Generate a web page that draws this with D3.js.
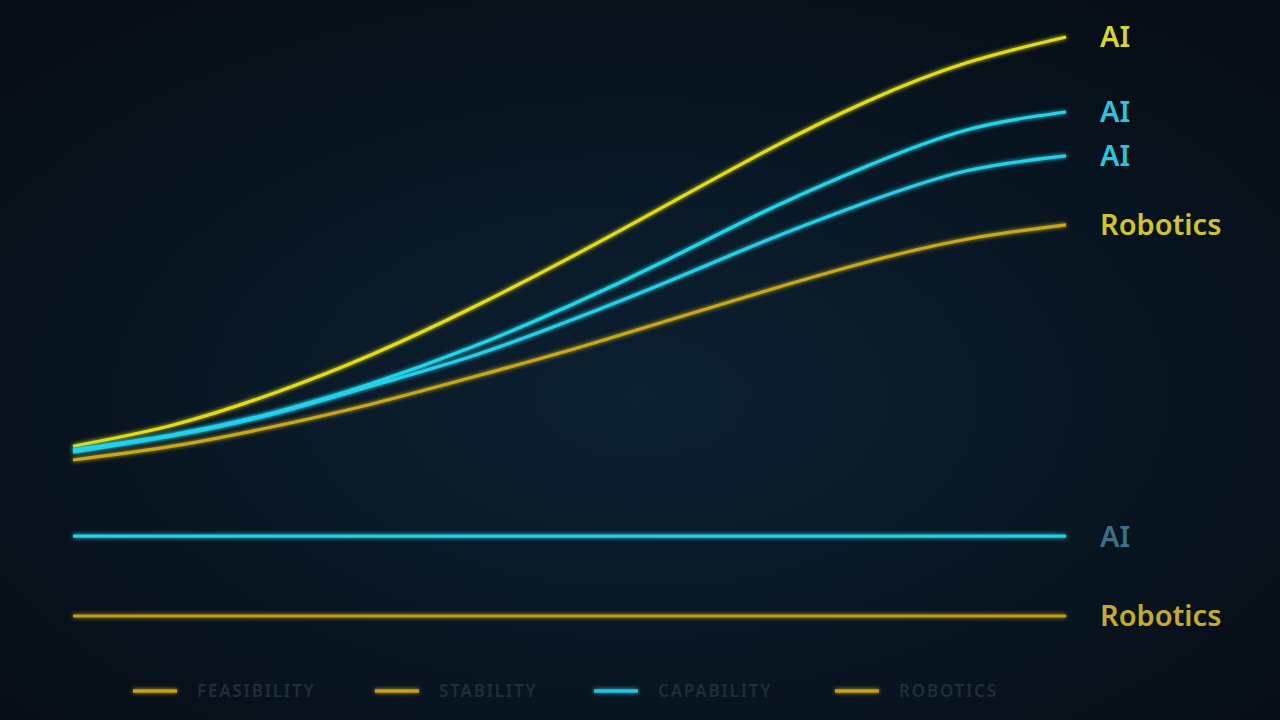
<!DOCTYPE html>
<html><head><meta charset="utf-8">
<script src="https://cdn.jsdelivr.net/npm/d3@7"></script>
<style>html,body{margin:0;padding:0;background:#070e16;}svg{display:block;}</style>
</head><body>
<svg id="c" width="1280" height="720"></svg>
<script>
// ---- data ----
const steps = [0,1,2,3,4,5,6,7,8,9,10];
const aiTop      = [32.3,35.8,41.0,47.5,55.2,63.7,72.7,81.7,89.8,96.2,100.5];
const aiMid      = [31.7,34.2,37.8,42.7,48.7,55.7,63.5,71.7,79.0,85.0,88.0];
const aiLow      = [31.3,34.0,37.6,42.3,47.2,53.2,59.8,66.7,73.0,78.2,80.7];
const robotics   = [30.0,32.3,35.5,39.3,43.7,48.3,53.3,58.3,63.0,66.8,69.2];
const aiFlat     = [17.3,17.3,17.3,17.3,17.3,17.3,17.3,17.3,17.3,17.3,17.3];
const roboFlat   = [4.0,4.0,4.0,4.0,4.0,4.0,4.0,4.0,4.0,4.0,4.0];
const seriesNames = ["AI","AI","AI","Robotics","AI","Robotics"];
const legendLabels = ["FEASIBILITY","STABILITY","CAPABILITY","ROBOTICS"];

const series = [
  {name:seriesNames[0], values:aiTop,    color:"#e4dc16", label:"#dcd42a"},
  {name:seriesNames[1], values:aiMid,    color:"#22d6ea", label:"#2ec4dc"},
  {name:seriesNames[2], values:aiLow,    color:"#26cfe8", label:"#2ec4dc"},
  {name:seriesNames[3], values:robotics, color:"#c7a81c", label:"#d2c328"},
  {name:seriesNames[4], values:aiFlat,   color:"#27cde6", label:"#3d6e86"},
  {name:seriesNames[5], values:roboFlat, color:"#c19b1a", label:"#c4ab2a"}
];
const legendColors = ["#c49e1e","#c49e1e","#28c2df","#c49e1e"];

const svg = d3.select("#c");
const W = 1280, H = 720;
const defs = svg.append("defs");
const rg = defs.append("radialGradient").attr("id","bg").attr("cx","0.5").attr("cy","0.55").attr("r","0.7");
rg.append("stop").attr("offset","0%").attr("stop-color","#0c2031");
rg.append("stop").attr("offset","60%").attr("stop-color","#081521");
rg.append("stop").attr("offset","100%").attr("stop-color","#060c13");
const glow = defs.append("filter").attr("id","glow").attr("filterUnits","userSpaceOnUse")
  .attr("x",0).attr("y",0).attr("width",W).attr("height",H);
glow.append("feGaussianBlur").attr("stdDeviation","2.2").attr("result","b");
const m = glow.append("feMerge");
m.append("feMergeNode").attr("in","b");
m.append("feMergeNode").attr("in","SourceGraphic");

svg.append("rect").attr("width",W).attr("height",H).attr("fill","url(#bg)");

const x = d3.scaleLinear().domain([0,10]).range([73,1066]);
const y = d3.scaleLinear().domain([0,100]).range([640,40]);

const line = d3.line().x((d,i)=>x(steps[i])).y(d=>y(d)).curve(d3.curveNatural);

const g = svg.append("g");
series.forEach(s=>{
  g.append("path").attr("d",line(s.values)).attr("fill","none")
    .attr("stroke",s.color).attr("stroke-width",3.2).attr("stroke-linecap","butt")
    .attr("filter","url(#glow)");
  g.append("text").attr("x",1100).attr("y",y(s.values[s.values.length-1]))
    .attr("dy","0.36em").attr("fill",s.label)
    .attr("font-family","'Noto Sans', 'Open Sans', sans-serif").attr("font-size",29)
    .attr("font-weight",600).text(s.name);
});

// legend
const legX = [133,375,594,835];
const lg = svg.append("g");
legendLabels.forEach((t,i)=>{
  lg.append("line").attr("x1",legX[i]).attr("x2",legX[i]+44).attr("y1",691).attr("y2",691)
    .attr("stroke",legendColors[i]).attr("stroke-width",3.5).attr("filter","url(#glow)");
  lg.append("text").attr("x",legX[i]+64).attr("y",691).attr("dy","0.36em")
    .attr("fill","#1d2e3d").attr("font-family","'Noto Sans', sans-serif").attr("font-size",17)
    .attr("font-weight",600).attr("letter-spacing",1.8).text(t);
});
</script>
</body></html>
